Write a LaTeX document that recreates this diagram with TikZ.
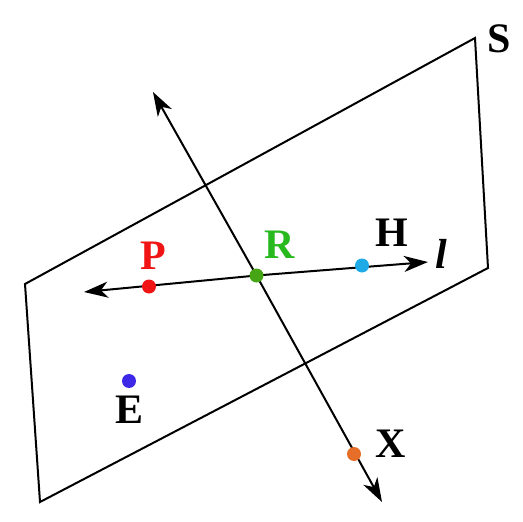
\documentclass[tikz,border=0pt]{standalone}
\usepackage{fontspec}
\setmainfont{Liberation Serif}
\usetikzlibrary{arrows.meta}
\definecolor{cP}{RGB}{240,20,20}
\definecolor{cR}{RGB}{70,165,20}
\definecolor{cRt}{RGB}{40,185,30}
\definecolor{cH}{RGB}{30,170,230}
\definecolor{cE}{RGB}{60,40,230}
\definecolor{cX}{RGB}{230,110,40}
\tikzset{
  edge/.style={line width=2pt, black},
  arr/.style={-{Stealth[length=24pt,width=16pt,inset=7pt]}},
  lbl/.style={font=\fontsize{42}{42}\selectfont\bfseries, inner sep=0pt},
  dot/.style={circle, fill=#1, minimum size=14pt, inner sep=0pt}
}
\begin{document}
\begin{tikzpicture}[x=1pt,y=-1pt]
\useasboundingbox (0,0) rectangle (523,522);
% plane
\coordinate (c1) at (25,284);
\coordinate (c2) at (475,38);
\coordinate (c3) at (488,268);
\coordinate (c4) at (40,502);
\draw[edge, line join=miter] (c1) -- (c2) -- (c3) -- (c4) -- cycle;
% line l
\coordinate (lL) at (84,292);
\coordinate (lR) at (428,262);
\coordinate (xT) at (153,92);
\coordinate (xB) at (382,502);
\coordinate (R) at (256.5,275.5);
\draw[edge, arr] (R) -- (lL);
\draw[edge, arr] (R) -- (lR);
\draw[edge, arr] (R) -- (xT);
\draw[edge, arr] (R) -- (xB);
% points
\node[dot=cP] (P) at (149,286.5) {};
\node[dot=cR] (Rd) at (R) {};
\node[dot=cH] (H) at (362,265.5) {};
\node[dot=cE] (E) at (129,381) {};
\node[dot=cX] (X) at (354,454) {};
% labels
\node[lbl, text=cP] (Pl) at (153,256) {P};
\node[lbl, text=cRt] (Rl) at (280,245) {R};
\node[lbl] (Hl) at (392,233) {H};
\node[lbl, font=\fontsize{42}{42}\selectfont\bfseries\itshape] (ll) at (441,254) {l};
\node[lbl] (El) at (130,410) {E};
\node[lbl] (Xl) at (391,444) {X};
\node[lbl] (Sl) at (499,39) {S};
\end{tikzpicture}
\end{document}
